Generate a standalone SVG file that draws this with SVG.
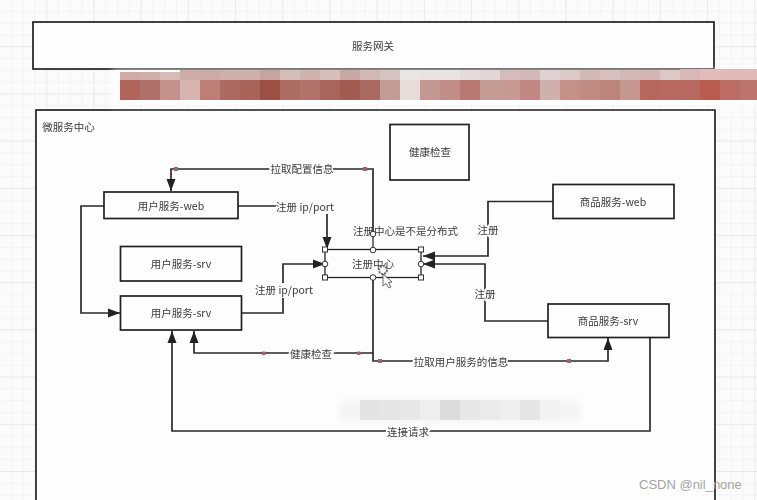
<svg xmlns="http://www.w3.org/2000/svg" width="757" height="500" viewBox="0 0 757 500">
<style>
.n{fill:#fdfdfd;stroke:#222;stroke-width:1.7}
.t{font-family:"Noto Sans CJK SC","Liberation Sans",sans-serif;font-size:10.5px;fill:#3a3a3a;text-anchor:middle;dominant-baseline:central}
.l{paint-order:stroke;stroke:#fdfdfd;stroke-width:3px}
.c{fill:none;stroke:#2a2a2a;stroke-width:1.7}
.d{fill:#a8606c}
.h{fill:#fff;stroke:#333;stroke-width:1}
.b{fill:#fdfdfd}
</style>
<defs>
<pattern id="grid" width="11.8" height="11.8" patternUnits="userSpaceOnUse"><path d="M11.8 0V11.8H0" fill="none" stroke="#ececec" stroke-width="1"/></pattern>
<pattern id="grid5" width="47.2" height="47.2" patternUnits="userSpaceOnUse"><path d="M47.2 0V47.2H0" fill="none" stroke="#e2e2e2" stroke-width="1"/></pattern>
<marker id="a" markerUnits="userSpaceOnUse" markerWidth="13" markerHeight="10" refX="12" refY="5" orient="auto"><path d="M0 0.5L12 5L0 9.500Z" fill="#222"/></marker>
<filter id="soft" x="-5%" y="-5%" width="110%" height="110%"><feGaussianBlur stdDeviation="0.4"/></filter>
<filter id="halo" x="-5%" y="-30%" width="110%" height="160%"><feGaussianBlur stdDeviation="3"/></filter>
</defs>
<rect width="757" height="500" fill="#fbfbfb"/>
<rect width="757" height="500" fill="url(#grid)"/>
<rect width="757" height="500" fill="url(#grid5)"/>
<g filter="url(#soft)">
<g id="gateway"><rect class="n" x="33" y="22" width="681" height="47"/><text class="t" x="373" y="45">服务网关</text></g>
<g id="center"><rect class="n" x="36" y="110" width="679" height="395"/><text class="t" x="68.500" y="126">微服务中心</text></g>
</g>
<g id="mosaic-top">
<rect x="112" y="70" width="645" height="36" fill="#fff" opacity=".85" filter="url(#halo)"/>
<rect x="120" y="72" width="20" height="8" fill="#d2aaa6"/><rect x="140" y="72" width="20" height="8" fill="#d0aeaa"/><rect x="160" y="72" width="20" height="8" fill="#d6bcb8"/><rect x="180" y="70" width="20" height="10" fill="#d0aca8"/><rect x="200" y="70" width="20" height="10" fill="#ccaaa6"/><rect x="220" y="70" width="20" height="10" fill="#ceb0ac"/><rect x="240" y="70" width="20" height="10" fill="#d0b0ac"/><rect x="260" y="70" width="20" height="10" fill="#c8a4a0"/><rect x="280" y="70" width="20" height="10" fill="#d4bcb8"/><rect x="300" y="70" width="20" height="10" fill="#ceb2ae"/><rect x="320" y="70" width="20" height="10" fill="#d6c0bc"/><rect x="340" y="70" width="20" height="10" fill="#c8a8a4"/><rect x="360" y="70" width="20" height="10" fill="#d2b8b4"/><rect x="380" y="70" width="20" height="10" fill="#d6c4c2"/><rect x="400" y="70" width="20" height="10" fill="#eae6e6"/><rect x="420" y="70" width="20" height="10" fill="#e8e4e4"/><rect x="440" y="70" width="20" height="10" fill="#e8e4e4"/><rect x="460" y="70" width="20" height="10" fill="#e4dcdc"/><rect x="480" y="70" width="20" height="10" fill="#e2d6d6"/><rect x="500" y="70" width="20" height="10" fill="#d4bcbc"/><rect x="520" y="70" width="20" height="10" fill="#d4b8b8"/><rect x="540" y="70" width="20" height="10" fill="#e0d2d0"/><rect x="560" y="70" width="20" height="10" fill="#dccac8"/><rect x="580" y="70" width="20" height="10" fill="#d4b8b6"/><rect x="600" y="70" width="20" height="10" fill="#d8c0be"/><rect x="620" y="70" width="20" height="10" fill="#d4b8b6"/><rect x="640" y="70" width="20" height="10" fill="#d2b4b4"/><rect x="660" y="70" width="20" height="10" fill="#dcc8c6"/><rect x="680" y="69" width="20" height="11" fill="#d6b8b8"/><rect x="700" y="69" width="20" height="11" fill="#e2bcb8"/><rect x="720" y="69" width="20" height="11" fill="#dfbab6"/><rect x="740" y="69" width="17" height="11" fill="#dfbab6"/>
<rect x="120" y="80" width="20" height="20" fill="#b0645a"/><rect x="140" y="80" width="20" height="20" fill="#b0706a"/><rect x="160" y="80" width="20" height="20" fill="#c4928a"/><rect x="180" y="80" width="20" height="20" fill="#d8b4b0"/><rect x="200" y="80" width="20" height="20" fill="#bc7f76"/><rect x="220" y="80" width="20" height="20" fill="#ac6a60"/><rect x="240" y="80" width="20" height="20" fill="#a9645a"/><rect x="260" y="80" width="20" height="20" fill="#9c4f42"/><rect x="280" y="80" width="20" height="20" fill="#ae6c62"/><rect x="300" y="80" width="20" height="20" fill="#b0736a"/><rect x="320" y="80" width="20" height="20" fill="#a9655b"/><rect x="340" y="80" width="20" height="20" fill="#a25b50"/><rect x="360" y="80" width="20" height="20" fill="#ab6a60"/><rect x="380" y="80" width="20" height="20" fill="#c49c94"/><rect x="400" y="80" width="20" height="20" fill="#e8dcda"/><rect x="420" y="80" width="20" height="20" fill="#c49890"/><rect x="440" y="80" width="20" height="20" fill="#c08e86"/><rect x="460" y="80" width="20" height="20" fill="#b87a70"/><rect x="480" y="80" width="20" height="20" fill="#c49c94"/><rect x="500" y="80" width="20" height="20" fill="#c69a92"/><rect x="520" y="80" width="20" height="20" fill="#c08880"/><rect x="540" y="80" width="20" height="20" fill="#d0b0ac"/><rect x="560" y="80" width="20" height="20" fill="#c49088"/><rect x="580" y="80" width="20" height="20" fill="#c08c84"/><rect x="600" y="80" width="20" height="20" fill="#bc857c"/><rect x="620" y="80" width="20" height="20" fill="#c49890"/><rect x="640" y="80" width="20" height="20" fill="#b8675c"/><rect x="660" y="80" width="20" height="20" fill="#b86a60"/><rect x="680" y="80" width="20" height="20" fill="#b86a60"/><rect x="700" y="80" width="20" height="20" fill="#b85c50"/><rect x="720" y="80" width="20" height="20" fill="#bc6e64"/><rect x="740" y="80" width="17" height="20" fill="#bc746c"/>
</g>
<g id="mosaic-bottom">
<rect x="340" y="400" width="240" height="22" rx="6" fill="#f4f4f4" filter="url(#halo)"/>
<rect x="360" y="400" width="20" height="20" fill="#e4e4e4"/><rect x="380" y="400" width="20" height="20" fill="#e6e6e6"/><rect x="400" y="400" width="20" height="20" fill="#e8e8e8"/><rect x="420" y="400" width="20" height="20" fill="#eeeeee"/><rect x="440" y="400" width="20" height="20" fill="#dcdcdc"/><rect x="460" y="400" width="20" height="20" fill="#e8e8e8"/><rect x="480" y="400" width="20" height="20" fill="#ebebeb"/><rect x="500" y="400" width="20" height="20" fill="#efefef"/><rect x="520" y="400" width="20" height="20" fill="#e6e6e6"/><rect x="540" y="400" width="20" height="20" fill="#f2f2f2"/>
</g>
<g filter="url(#soft)">
<g id="connectors">
<path class="c" d="M373 232V169H171V191" marker-end="url(#a)"/>
<path class="c" d="M104 206H81V313H120" marker-end="url(#a)"/>
<path class="c" d="M238 206H327V249" marker-end="url(#a)"/>
<path class="c" d="M241 313H283V264H325" marker-end="url(#a)"/>
<path class="c" d="M553 201.500H488V256H423" marker-end="url(#a)"/>
<path class="c" d="M548 321H485V264H423" marker-end="url(#a)"/>
<path class="c" d="M373 353H194V331" marker-end="url(#a)"/>
<path class="c" d="M373 277V361H608V338" marker-end="url(#a)"/>
<path class="c" d="M650 337V431H172V331" marker-end="url(#a)"/>
<rect class="d" x="174" y="167" width="4" height="4"/><rect class="d" x="363" y="167" width="4" height="4"/>
<rect class="d" x="262" y="351.500" width="3.500" height="3.500"/><rect class="d" x="357" y="351.500" width="3.500" height="3.500"/>
<rect class="d" x="378" y="359" width="4" height="4"/><rect class="d" x="567" y="359" width="4" height="4"/>
<rect class="b" x="276" y="199" width="59" height="15"/>
<rect class="b" x="254" y="283" width="60" height="15"/>
<text class="t l" x="302" y="168.500">拉取配置信息</text>
<text class="t" x="305" y="206.500">注册 ip/port</text>
<text class="t" x="284" y="289.500">注册 ip/port</text>
<text class="t l" x="488" y="229">注册</text>
<text class="t l" x="485" y="293">注册</text>
<text class="t l" x="311" y="353.500">健康检查</text>
<text class="t l" x="461" y="361.500">拉取用户服务的信息</text>
<text class="t l" x="408" y="431">连接请求</text>
</g>
<g id="node-user-web"><rect class="n" x="104" y="192" width="134" height="26.500"/><text class="t" x="171" y="205.500">用户服务-web</text></g>
<g id="node-user-srv-1"><rect class="n" x="120.500" y="246.500" width="121" height="34.500"/><text class="t" x="181" y="263.500">用户服务-srv</text></g>
<g id="node-user-srv-2"><rect class="n" x="120.500" y="296" width="121" height="34"/><text class="t" x="181" y="312.500">用户服务-srv</text></g>
<g id="node-health"><rect class="n" x="390" y="124.500" width="79" height="55.500"/><text class="t" x="430" y="151.500">健康检查</text></g>
<g id="node-goods-web"><rect class="n" x="553" y="184.500" width="121" height="34"/><text class="t" x="613" y="201.500">商品服务-web</text></g>
<g id="node-goods-srv"><rect class="n" x="548" y="304" width="121" height="33.500"/><text class="t" x="608" y="320.500">商品服务-srv</text></g>
<g id="node-registry">
<rect x="325" y="249.500" width="96" height="28" fill="#fdfdfd" stroke="#222" stroke-width="1.300"/>
<path d="M373 234V250" fill="none" stroke="#2a2a2a" stroke-width="1.300"/>
<text class="t" x="373" y="263.500">注册中心</text>
<rect class="h" x="322.500" y="247" width="5" height="5"/><rect class="h" x="418.500" y="247" width="5" height="5"/><rect class="h" x="322.500" y="275" width="5" height="5"/><rect class="h" x="418.500" y="275" width="5" height="5"/>
<circle class="h" cx="373" cy="250" r="2.800"/><circle class="h" cx="373" cy="277.500" r="2.800"/><circle class="h" cx="325" cy="264" r="2.800"/><circle class="h" cx="421" cy="264" r="2.800"/>
<circle cx="383" cy="270" r="4" fill="#fff" stroke="#666" stroke-width="2" stroke-dasharray="2 1"/>
<path d="M383 274L383 286L386 283.500L389 288L391 287L388.500 282.500L392 282Z" fill="#fff" stroke="#444" stroke-width=".8"/>
</g>
<text class="t" x="405.500" y="230.500">注册中心是不是分布式</text>
<circle class="h" cx="373" cy="234" r="2.800"/>
</g>
<text x="639" y="489" style="font-family:'Liberation Sans',sans-serif;font-size:13px;fill:#a4a4a4">CSDN @nil_none</text>
</svg>
